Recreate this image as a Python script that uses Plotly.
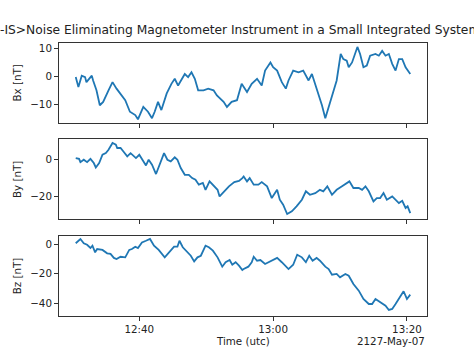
import pandas as pd
import plotly.graph_objects as go
from plotly.subplots import make_subplots

title_text = "-IS>Noise Eliminating Magnetometer Instrument in a Small Integrated System"
start_time = "2127-05-07 12:30:00"

# minutes after 12:30 UTC
bx_minutes = [0.5, 0.9, 1.4, 1.9, 2.1, 2.9, 3.1, 3.6, 4.1, 4.6, 5.4, 6.0, 6.6, 7.4, 7.9, 8.6, 9.4, 9.8,
              10.6, 11.3, 11.9, 12.3, 12.8, 13.3, 14.1, 14.8, 15.3, 15.8, 16.8, 17.3, 17.8, 18.3, 18.8,
              19.6, 20.3, 21.1, 21.6, 22.6, 23.1, 23.8, 24.6, 25.3, 26.1, 26.8, 27.6, 28.3, 28.8, 29.6,
              30.0, 30.6, 31.3, 31.9, 32.3, 33.0, 33.8, 34.5, 35.3, 35.8, 36.3, 36.8, 37.3, 37.8, 38.3,
              39.0, 39.5, 40.1, 40.5, 41.0, 41.3, 41.8, 42.3, 42.6, 43.0, 43.5, 44.0, 44.5, 45.3, 45.8,
              46.3, 46.8, 47.3, 47.8, 48.3, 48.8, 49.3, 49.8, 50.5]
bx_values = [-0.2, -3.7, 0.3, -0.2, -2.0, 0.3, -1.4, -4.9, -10.2, -9.0, -4.9, -2.0, -4.3, -6.7, -8.4, -12.5,
             -13.7, -15.2, -10.8, -12.5, -14.8, -12.5, -9.0, -11.9, -6.0, -2.6, -0.8, -3.2, 0.9, -0.2, 1.5,
             -0.8, -4.9, -4.9, -4.3, -4.9, -6.7, -9.0, -10.8, -9.0, -8.4, -2.6, -5.5, -2.6, -0.8, -3.2, 2.1,
             5.0, 3.3, 2.1, -2.0, -4.3, -1.4, 2.1, 1.5, 2.1, -1.4, 0.9, -2.6, -6.7, -10.2, -14.8, -10.8,
             -4.9, -1.4, 8.0, 6.2, 5.6, 3.3, 5.0, 8.0, 10.5, 8.0, 3.3, 3.9, 7.4, 8.0, 7.4, 9.1, 7.4, 8.0,
             4.5, 2.1, 6.2, 6.2, 3.3, 0.9]

by_minutes = [0.5, 1.0, 1.2, 1.7, 2.2, 2.7, 3.2, 3.5, 4.0, 4.5, 5.0, 5.4, 6.0, 6.5, 6.7, 7.2, 7.6, 8.2,
              8.7, 9.5, 10.0, 10.7, 11.0, 11.4, 11.9, 12.5, 12.9, 13.7, 14.2, 14.7, 15.3, 15.7, 16.2,
              16.8, 17.4, 17.9, 18.4, 18.9, 19.5, 19.9, 20.5, 21.2, 21.7, 22.0, 22.7, 23.4, 24.2, 24.9,
              25.4, 25.6, 26.1, 26.5, 27.1, 27.8, 28.3, 29.1, 29.8, 30.6, 31.0, 31.5, 32.1, 32.8, 33.5,
              34.3, 34.9, 35.5, 36.3, 37.0, 37.5, 38.1, 38.8, 39.5, 40.3, 41.0, 41.4, 42.0, 42.8, 43.3,
              43.8, 44.3, 45.0, 45.5, 46.0, 46.5, 47.0, 47.8, 48.3, 48.8, 49.3, 49.8, 50.1, 50.5]
by_values = [0.7, 0.3, -1.5, -0.2, -1.5, 0.3, -2.0, -4.4, -2.0, 2.5, 3.4, 5.2, 8.9, 8.0, 6.2, 6.2, 4.4, 1.6,
             3.4, 0.7, 2.5, -2.0, -3.3, -0.2, -2.9, -8.0, -3.8, 3.4, -0.2, -1.1, 1.1, -0.2, -4.7, -8.4,
             -8.4, -10.2, -11.1, -13.8, -12.9, -16.6, -12.0, -14.7, -16.6, -20.2, -17.4, -14.7, -12.4,
             -11.7, -10.2, -9.3, -12.0, -10.2, -13.8, -13.8, -12.4, -14.7, -21.1, -16.6, -22.0, -24.7,
             -29.8, -28.3, -25.6, -22.0, -17.4, -19.3, -18.4, -16.6, -17.4, -14.7, -19.3, -16.6, -14.7,
             -12.9, -12.0, -15.6, -15.6, -16.6, -14.7, -17.4, -22.9, -21.1, -21.1, -18.4, -22.0, -20.2,
             -22.0, -23.8, -22.6, -26.5, -25.6, -29.3]

bz_minutes = [0.5, 0.9, 1.2, 1.7, 2.2, 2.7, 3.0, 3.4, 3.7, 4.5, 5.2, 5.7, 6.2, 6.6, 7.2, 7.9, 8.5, 8.9,
              9.4, 9.8, 10.4, 11.0, 11.6, 12.2, 12.9, 13.8, 14.4, 15.2, 15.7, 16.0, 16.5, 17.2, 17.7,
              18.2, 18.7, 19.2, 19.9, 20.4, 21.0, 21.7, 22.4, 22.9, 23.5, 23.9, 24.4, 24.9, 25.4,
              25.6, 26.3, 26.8, 27.1, 27.6, 28.1, 28.8, 29.6, 30.6, 31.3, 32.3, 33.0, 33.6, 34.3, 34.9,
              35.4, 35.9, 36.5, 37.0, 37.8, 38.3, 38.8, 39.5, 40.0, 40.8, 41.3, 42.0, 42.8, 43.5, 44.3,
              44.8, 45.3, 46.0, 46.8, 47.3, 47.8, 48.3, 48.8, 49.5, 50.0, 50.5]
bz_values = [0.5, 1.8, 3.4, 0.5, -0.5, -2.7, -1.1, -5.6, -3.4, -4.0, -6.3, -6.7, -9.4, -10.1, -8.6, -9.0,
             -4.0, -3.4, -1.8, -2.7, 1.1, 2.2, 3.4, -1.1, -4.0, -9.0, -5.6, -1.8, -1.8, 2.2, -2.2, -5.6,
             -7.9, -11.7, -9.0, -7.9, -1.1, -2.2, -4.5, -9.0, -15.3, -12.3, -10.8, -14.0, -12.3, -14.6,
             -17.5, -16.9, -15.3, -12.3, -8.6, -11.3, -10.8, -13.5, -11.7, -9.4, -12.3, -16.9, -14.0,
             -7.2, -9.0, -12.3, -7.9, -11.3, -9.4, -11.3, -15.3, -16.9, -20.7, -20.2, -22.5, -20.2,
             -21.4, -27.0, -31.5, -37.1, -40.5, -40.5, -37.1, -39.3, -41.6, -44.5, -43.8, -40.5, -37.1,
             -31.9, -37.1, -34.2]

y_labels = ["Bx [nT]", "By [nT]", "Bz [nT]"]
tick_times = ["2127-05-07 12:40", "2127-05-07 13:00", "2127-05-07 13:20"]
tick_labels = ["12:40", "13:00", "13:20"]
date_label = "2127-May-07"
x_title = "Time (utc)"

t0 = pd.Timestamp(start_time)
def to_time(mins):
    return [t0 + pd.Timedelta(minutes=m) for m in mins]

series = [(bx_minutes, bx_values), (by_minutes, by_values), (bz_minutes, bz_values)]

all_min = min(min(s[0]) for s in series)
all_max = max(max(s[0]) for s in series)
pad = 0.05 * (all_max - all_min)
x_range = [t0 + pd.Timedelta(minutes=all_min - pad), t0 + pd.Timedelta(minutes=all_max + pad)]

font = "DejaVu Sans, Verdana, sans-serif"
fig = make_subplots(rows=3, cols=1, shared_xaxes=True)
for i, (mins, vals) in enumerate(series, start=1):
    fig.add_trace(go.Scatter(x=to_time(mins), y=vals, mode="lines",
                             line=dict(color="#1f77b4", width=1.8), showlegend=False,
                             hoverinfo="skip"), row=i, col=1)

domains = [[0.708, 1.0], [0.354, 0.647], [0.0, 0.293]]
yranges = [[-16.4, 11.9], [-32.7, 10.9], [-48.6, 5.4]]
ydticks = [10, 20, 20]
axis_common = dict(showline=True, linecolor="#333", linewidth=1, mirror=True, ticks="outside",
                   ticklen=4, tickwidth=1, tickcolor="#333", showgrid=False, zeroline=False,
                   automargin=False,
                   tickfont=dict(size=10.3, color="#222", family=font))
for i in range(3):
    sfx = "" if i == 0 else str(i + 1)
    fig.layout["yaxis" + sfx].update(domain=domains[i], range=yranges[i], dtick=ydticks[i],
                                     title=dict(text=y_labels[i], font=dict(size=10.3, color="#222", family=font),
                                                standoff=6), **axis_common)
    fig.layout["xaxis" + sfx].update(range=x_range, tickvals=tick_times, ticktext=tick_labels,
                                     showticklabels=(i == 2), **axis_common)

fig.add_annotation(text=title_text, xref="paper", yref="paper", x=-0.167, y=1.0, yshift=4,
                   xanchor="left", yanchor="bottom", showarrow=False,
                   font=dict(size=12.25, color="#222", family=font))
fig.add_annotation(text=x_title, xref="paper", yref="paper", x=0.5, y=0, yshift=-17,
                   xanchor="center", yanchor="top", showarrow=False,
                   font=dict(size=10.3, color="#222", family=font))
fig.add_annotation(text=date_label, xref="paper", yref="paper", x=1.0, y=0, yshift=-17,
                   xanchor="right", yanchor="top", showarrow=False,
                   font=dict(size=10.3, color="#222", family=font))

fig.update_layout(width=474, height=355, margin=dict(l=59, r=47, t=43, b=39, autoexpand=False),
                  plot_bgcolor="white", paper_bgcolor="white", font=dict(family=font))
fig.write_html("out.html", config={"displayModeBar": False},
               post_script="document.body.style.margin='0';")
